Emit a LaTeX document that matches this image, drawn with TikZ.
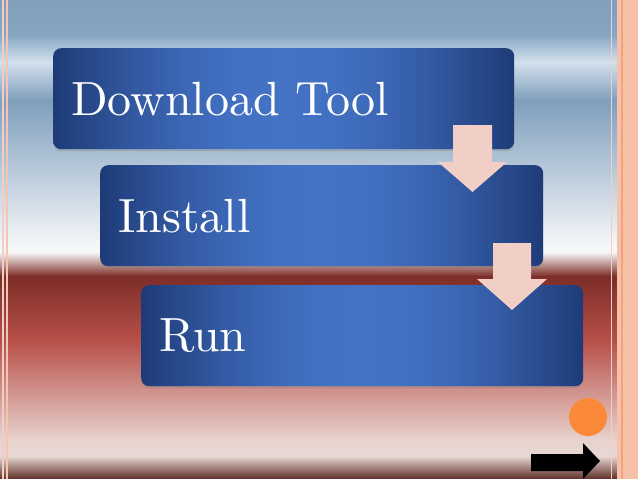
\documentclass[tikz,border=0pt]{standalone}
\usepackage{fontspec}
\setmainfont{lmroman10-regular.otf}
\usetikzlibrary{shadows}

\definecolor{bga}{HTML}{819FBD}
\definecolor{bgb}{HTML}{87A6C3}
\definecolor{bgc}{HTML}{D3E1EC}
\definecolor{bgd}{HTML}{7F9EBD}
\definecolor{bge}{HTML}{F1F4F7}
\definecolor{bgf}{HTML}{F8F8F8}
\definecolor{bgg}{HTML}{7D2D27}
\definecolor{bgh}{HTML}{B9514B}
\definecolor{bgi}{HTML}{E8D3CE}
\definecolor{bgj}{HTML}{E6D8D3}
\definecolor{bgk}{HTML}{5E2A24}
\definecolor{boxdark}{HTML}{1E3B77}
\definecolor{boxlight}{HTML}{4473C6}
\colorlet{boxa}{boxlight!31!boxdark}
\colorlet{boxb}{boxlight!59!boxdark}
\colorlet{boxc}{boxlight!81!boxdark}
\colorlet{boxd}{boxlight!95!boxdark}
\definecolor{arrowpink}{HTML}{F1CEC6}
\definecolor{rimpink}{HTML}{F0CFC8}
\definecolor{rimsalmon}{HTML}{F7C0A8}
\definecolor{rimorange}{HTML}{F2A27F}
\definecolor{dotorange}{HTML}{FA8A3A}

\pgfdeclarehorizontalshading{boxshade}{100bp}{color(0bp)=(boxdark);
  color(25bp)=(boxdark); color(30bp)=(boxa); color(35bp)=(boxb);
  color(40bp)=(boxc); color(45bp)=(boxd); color(50bp)=(boxlight);
  color(55bp)=(boxd); color(60bp)=(boxc); color(65bp)=(boxb);
  color(70bp)=(boxa); color(75bp)=(boxdark); color(100bp)=(boxdark)}

\tikzset{
  stepbox/.style={anchor=north west, rounded corners=8pt, shade, shading=boxshade,
    drop shadow={opacity=.35, shadow xshift=0pt, shadow yshift=-2pt},
    text=white, align=left, inner xsep=18pt, inner ysep=0pt,
    minimum height=101pt, font=\fontsize{48}{50}\selectfont},
  rim/.style={line width=1.6pt}
}

\begin{document}
\begin{tikzpicture}[x=1pt,y=-1pt]
    \useasboundingbox (0,0) rectangle (638,479);

    % background bands
    \foreach \ya/\yb/\ca/\cb in {0/35/bga/bgb, 35/62/bgb/bgc, 62/100/bgc/bgd,
        100/240/bgd/bge, 240/252/bge/bgf, 252/276/bgf/bgg, 276/342/bgg/bgh,
        342/440/bgh/bgi, 440/456/bgi/bgj, 456/479/bgj/bgk}
      \shade[top color=\ca, bottom color=\cb] (0,\ya) rectangle (638,\yb+.5);

    \draw[rim, rimpink] (3,0) -- (3,479);
    \draw[rim, rimsalmon!80!rimpink] (7,0) -- (7,479);
    \draw[rim, rimpink] (611.5,0) -- (611.5,479);
    \fill[rimsalmon] (617,0) rectangle (638,479);
    \draw[rim, rimorange] (622,0) -- (622,479);

    \node[stepbox, text width=425pt] (dl) at (53,48) {Download Tool};
    \node[stepbox, text width=407pt] (inst) at (100,165) {Install};
    \node[stepbox, text width=406pt] (run) at (141,285) {Run};

    \fill[arrowpink] (453,125) -- (492,125) -- (492,162) -- (507,162)
      -- (472.5,192) -- (438,162) -- (453,162) -- cycle;
    \fill[arrowpink] (493,243) -- (531,243) -- (531,279) -- (547,279)
      -- (512,310) -- (477,279) -- (493,279) -- cycle;

    \fill[dotorange] (588,417) circle (19);
    \fill[black] (531,454) -- (583,454) -- (583,443) -- (600,461)
      -- (583,479) -- (583,471) -- (531,471) -- cycle;

  \end{tikzpicture}
\end{document}
